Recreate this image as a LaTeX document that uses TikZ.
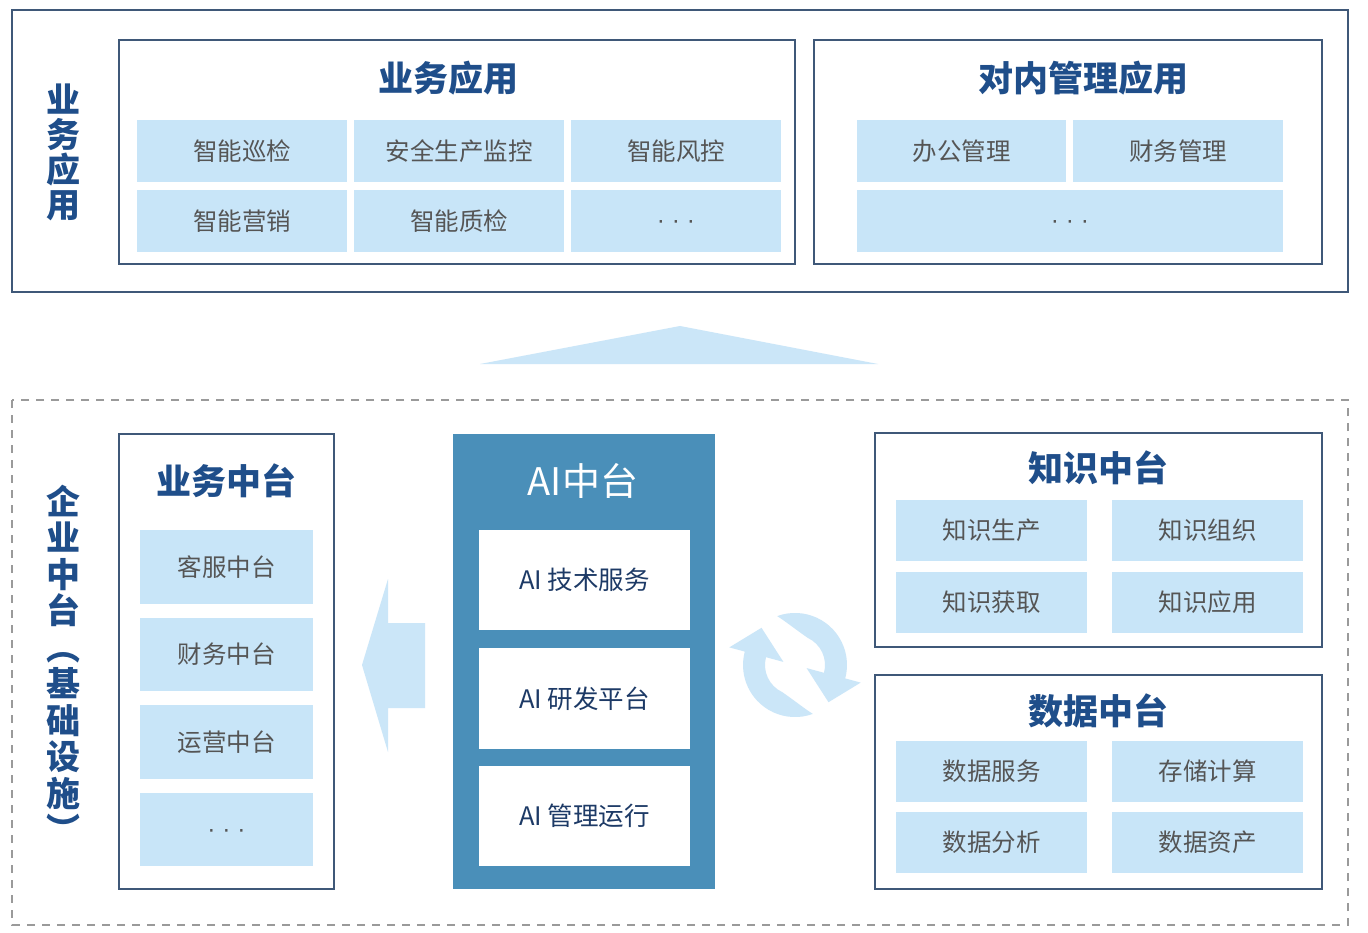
\documentclass[tikz,border=0pt]{standalone}
\usepackage{fontspec}
\newfontfamily\cjk{Noto Sans CJK SC}
\newfontfamily\latin{Liberation Sans}
\definecolor{cellfill}{HTML}{C8E5F8}
\definecolor{celltext}{HTML}{555555}
\definecolor{titleblue}{HTML}{1F4E8A}
\definecolor{boxborder}{HTML}{3F5878}
\definecolor{aiblue}{HTML}{4A8FB9}
\definecolor{aitext}{HTML}{1D3A66}
\definecolor{arrowfill}{HTML}{CBE6F8}
\definecolor{dashgray}{HTML}{9A9A9A}
\newcommand{\tdots}{\raisebox{-8pt}[0pt][0pt]{\latin · · ·}}
\tikzset{
  frame/.style={draw=boxborder, line width=1.6pt, fill=white, inner sep=0pt},
  cell/.style={fill=cellfill, inner sep=0pt, font=\cjk\fontsize{24.5}{24.5}\selectfont, text=celltext},
  title/.style={font=\cjk\bfseries\fontsize{35}{35}\selectfont, text=titleblue, inner sep=0pt},
  vlabel/.style={text=titleblue, align=center, inner sep=0pt},
  aibox/.style={fill=aiblue, inner sep=0pt},
  aicell/.style={fill=white, inner sep=0pt, font=\cjk\fontsize{25.5}{25.5}\selectfont, text=aitext},
  bigarrow/.style={fill=arrowfill, draw=none},
}
\begin{document}
\begin{tikzpicture}[x=1pt, y=-1pt]
\useasboundingbox[fill=white] (0,0) rectangle (1368,933);

% ---------- top area ----------
\node[frame, minimum width=1336pt, minimum height=282pt] (top) at (680,151) {};
\node[vlabel, font=\cjk\bfseries\fontsize{34}{35}\selectfont] (toplabel) at (63,152) {业\\务\\应\\用};

\node[frame, minimum width=676pt, minimum height=224pt] (biz) at (457,152) {};
\node[title] (biztitle) at (448,78) {业务应用};
\node[cell, minimum width=210pt, minimum height=62pt] (b1) at (242,151) {智能巡检};
\node[cell, minimum width=210pt, minimum height=62pt] (b2) at (459,151) {安全生产监控};
\node[cell, minimum width=210pt, minimum height=62pt] (b3) at (676,151) {智能风控};
\node[cell, minimum width=210pt, minimum height=62pt] (b4) at (242,221) {智能营销};
\node[cell, minimum width=210pt, minimum height=62pt] (b5) at (459,221) {智能质检};
\node[cell, minimum width=210pt, minimum height=62pt] (b6) at (676,221) {\tdots};

\node[frame, minimum width=508pt, minimum height=224pt] (mgmt) at (1068,152) {};
\node[title] (mgmttitle) at (1083,78) {对内管理应用};
\node[cell, minimum width=209pt, minimum height=62pt] (m1) at (961.5,151) {办公管理};
\node[cell, minimum width=210pt, minimum height=62pt] (m2) at (1178,151) {财务管理};
\node[cell, minimum width=426pt, minimum height=62pt] (m3) at (1070,221) {\tdots};

% ---------- up triangle ----------
\fill[arrowfill] (480,364) -- (680,326) -- (878,364) -- cycle;

% ---------- bottom area ----------
\draw[dashgray, line width=1.4pt, dash pattern=on 8pt off 7pt] (12,400) rectangle (1348,925);
\node[vlabel, font=\cjk\bfseries\fontsize{34}{36.5}\selectfont] (botlabel) at (63,664) {企\\业\\中\\台\\︵\\基\\础\\设\\施\\︶};

% business middle platform
\node[frame, minimum width=215pt, minimum height=455pt] (bmid) at (226.5,661.5) {};
\node[title] (bmidtitle) at (226,481) {业务中台};
\node[cell, minimum width=173pt, minimum height=74pt] (s1) at (226.5,567) {客服中台};
\node[cell, minimum width=173pt, minimum height=73pt] (s2) at (226.5,654.5) {财务中台};
\node[cell, minimum width=173pt, minimum height=74pt] (s3) at (226.5,742) {运营中台};
\node[cell, minimum width=173pt, minimum height=73pt] (s4) at (226.5,829.5) {\tdots};

% AI middle platform
\node[aibox, minimum width=262pt, minimum height=455pt] (ai) at (584,661.5) {};
\node[title, text=white, font=\cjk\fontsize{38}{38}\selectfont] (aititle) at (583,481) {AI中台};
\node[aicell, minimum width=211pt, minimum height=100pt] (a1) at (584.5,580) {AI 技术服务};
\node[aicell, minimum width=211pt, minimum height=101pt] (a2) at (584.5,698.5) {AI 研发平台};
\node[aicell, minimum width=211pt, minimum height=100pt] (a3) at (584.5,816) {AI 管理运行};

% left big arrow
\fill[arrowfill] (362,665) -- (388,579) -- (388,623) -- (425,623) -- (425,708) -- (388,708) -- (388,752) -- cycle;

% circular arrows
\begin{scope}[shift={(795,665)}, yscale=-1]
  \fill[arrowfill] (17.8,-48.9) arc[start angle=290, end angle=165, radius=52]
    -- (-65.7,17.6) -- (-33.5,37.2) -- (-11.6,3.1) -- (-29.0,7.8)
    arc[start angle=165, end angle=245, radius=30]
    .. controls (0,-36) and (10,-44) .. (17.8,-48.9) -- cycle;
\end{scope}
\begin{scope}[shift={(795,665)}, yscale=-1, rotate=180]
  \fill[arrowfill] (17.8,-48.9) arc[start angle=290, end angle=165, radius=52]
    -- (-65.7,17.6) -- (-33.5,37.2) -- (-11.6,3.1) -- (-29.0,7.8)
    arc[start angle=165, end angle=245, radius=30]
    .. controls (0,-36) and (10,-44) .. (17.8,-48.9) -- cycle;
\end{scope}

% knowledge middle platform
\node[frame, minimum width=447pt, minimum height=214pt] (know) at (1098.5,540) {};
\node[title] (knowtitle) at (1098,468) {知识中台};
\node[cell, minimum width=191pt, minimum height=61pt] (k1) at (991.5,530.5) {知识生产};
\node[cell, minimum width=191pt, minimum height=61pt] (k2) at (1207.5,530.5) {知识组织};
\node[cell, minimum width=191pt, minimum height=61pt] (k3) at (991.5,602.5) {知识获取};
\node[cell, minimum width=191pt, minimum height=61pt] (k4) at (1207.5,602.5) {知识应用};

% data middle platform
\node[frame, minimum width=447pt, minimum height=214pt] (data) at (1098.5,782) {};
\node[title] (datatitle) at (1098,711) {数据中台};
\node[cell, minimum width=191pt, minimum height=61pt] (d1) at (991.5,771.5) {数据服务};
\node[cell, minimum width=191pt, minimum height=61pt] (d2) at (1207.5,771.5) {存储计算};
\node[cell, minimum width=191pt, minimum height=61pt] (d3) at (991.5,842.5) {数据分析};
\node[cell, minimum width=191pt, minimum height=61pt] (d4) at (1207.5,842.5) {数据资产};
\end{tikzpicture}
\end{document}
